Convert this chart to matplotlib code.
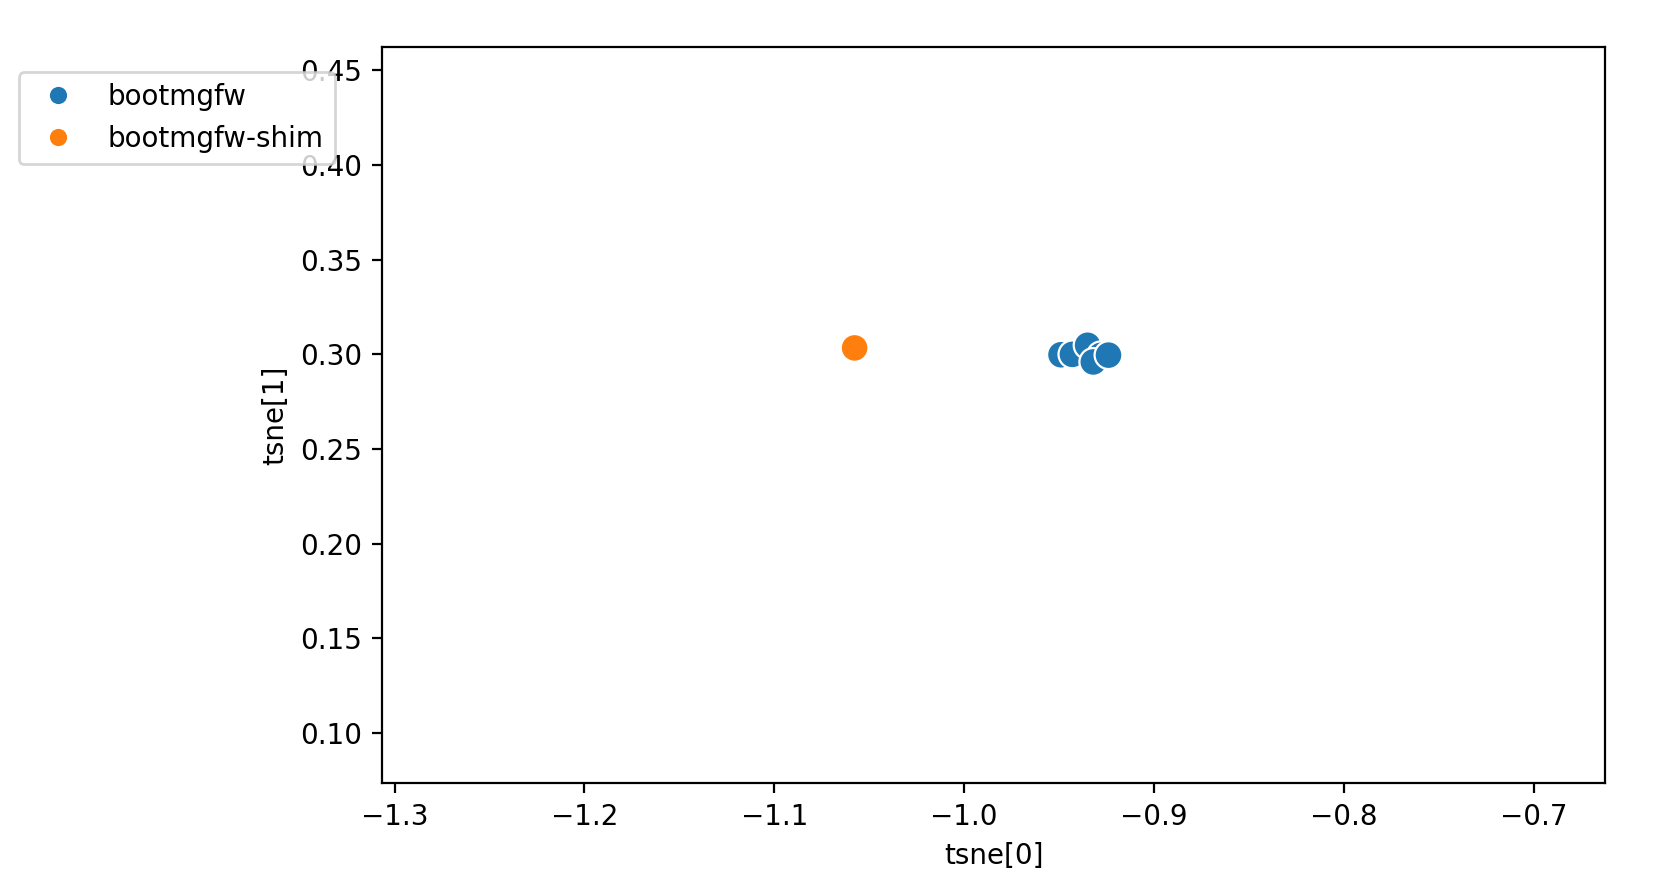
import matplotlib
matplotlib.use('Agg')
import matplotlib.pyplot as plt
import seaborn as sns
import pandas as pd

tsne0 = [-1.0577, -0.949, -0.943, -0.935, -0.928, -0.932, -0.924]
tsne1 = [0.3034, 0.2998, 0.3000, 0.3048, 0.2995, 0.2960, 0.2996]
labels = ['bootmgfw-shim', 'bootmgfw', 'bootmgfw', 'bootmgfw', 'bootmgfw', 'bootmgfw', 'bootmgfw']

df = pd.DataFrame({'tsne[0]': tsne0, 'tsne[1]': tsne1, 'label': labels})

fig = plt.figure(figsize=(8.3, 4.41), dpi=200)
ax = fig.add_axes([0.230, 0.112, 0.737, 0.835])
sns.scatterplot(data=df, x='tsne[0]', y='tsne[1]', hue='label',
                hue_order=['bootmgfw', 'bootmgfw-shim'], s=100, ax=ax)
ax.set_xlim(-1.3067, -0.6624)
ax.set_ylim(0.0736, 0.4624)
ax.legend(loc='upper left', bbox_to_anchor=(0.003, 0.934), bbox_transform=fig.transFigure,
          markerscale=0.7)
fig.savefig('out.png', dpi=200)
